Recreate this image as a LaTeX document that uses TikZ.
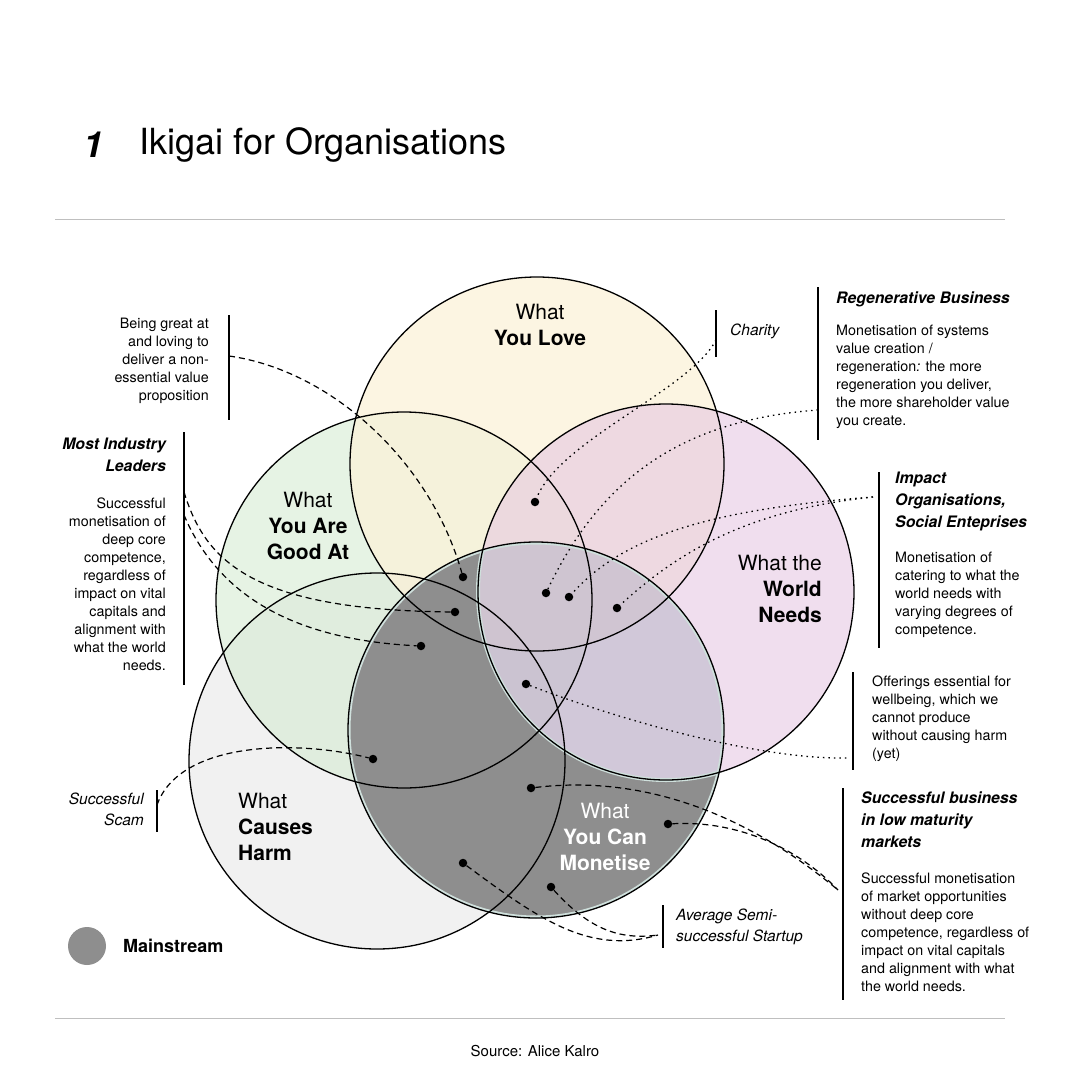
\documentclass[tikz,border=0pt]{standalone}
\usepackage{fontspec}
\setmainfont{TeX Gyre Heros}
\usepackage{xcolor}
\usetikzlibrary{positioning}

\definecolor{lovecol}{HTML}{FBF1D8}
\definecolor{goodcol}{HTML}{D6EBD2}
\definecolor{worldcol}{HTML}{E6C8E2}
\definecolor{harmcol}{HTML}{F1F1F1}
\definecolor{mainstream}{HTML}{8E8E8E}
\definecolor{overlap}{HTML}{B4B2C4}
\definecolor{rim}{HTML}{CFE0DC}

\tikzset{
  ring/.style={draw=black, line width=1.3pt},
  dot/.style={circle, fill=black, inner sep=0pt, minimum size=8.5pt},
  bar/.style={line width=1.1pt},
  note/.style={font=\fontsize{14.3}{18}\selectfont, inner sep=0pt},
  hint/.style={note, font=\fontsize{15.5}{21}\selectfont\itshape},
  head/.style={note, font=\fontsize{15.8}{22}\selectfont\bfseries\itshape},
  cname/.style={font=\fontsize{21}{26}\selectfont, inner sep=0pt},
  dashlink/.style={line width=1.2pt, dash pattern=on 6pt off 4pt},
  dotlink/.style={line width=1.3pt, dash pattern=on 1.5pt off 4pt}
}

\begin{document}
\begin{tikzpicture}[x=1pt, y=-1pt]
\useasboundingbox (0,0) rectangle (1080,1081);

% Title and rules
\node[anchor=west, font=\fontsize{36}{40}\selectfont\bfseries\itshape] (num) at (80,145) {1};
\node[anchor=west, font=\fontsize{36}{40}\selectfont] (title) at (136,145) {Ikigai for Organisations};
\draw[gray!50] (55,219) -- (1005,219);
\draw[gray!50] (55,1018) -- (1005,1018);
\node[note, font=\fontsize{15}{18}\selectfont] (source) at (535,1051) {Source: Alice Kalro};

% Circles
\def\harm{(377,761) circle (188)}
\def\good{(404,600) circle (188)}
\def\love{(537,464) circle (187)}
\def\world{(666,592) circle (188)}
\def\money{(536,730) circle (188)}

\fill[harmcol] \harm;
\fill[goodcol, fill opacity=0.6] \good;
\fill[lovecol, fill opacity=0.75] \love;
\fill[worldcol, fill opacity=0.6] \world;
\begin{scope}
  \clip \money;
  \fill[mainstream, even odd rule] \money \world;
  \fill[overlap, fill opacity=0.5] \world;
  \draw[rim, line width=5pt] \money;
  \draw[rim, line width=4pt] \world;
\end{scope}
\draw[ring] \harm;
\draw[ring] \good;
\draw[ring] \love;
\draw[ring] \world;
\draw[ring] \money;

% Circle labels
\node[cname, align=center] (lLove) at (540,325) {What\\\textbf{You Love}};
\node[cname, align=center] (lGood) at (308,526) {What\\\textbf{You Are}\\\textbf{Good At}};
\node[cname, align=right, anchor=east] (lWorld) at (822,589) {What the\\\textbf{World}\\\textbf{Needs}};
\node[cname, align=left, anchor=west] (lHarm) at (238,827) {What\\\textbf{Causes}\\\textbf{Harm}};
\node[cname, align=center, text=white] (lMoney) at (605,837) {What\\\textbf{You Can}\\\textbf{Monetise}};

% Dots
\node[dot] (dCharity) at (535,502) {};
\node[dot] (dRegen) at (546,593) {};
\node[dot] (dImpactA) at (569,597) {};
\node[dot] (dImpactB) at (617,608) {};
\node[dot] (dGreat) at (463,577) {};
\node[dot] (dLeadA) at (455,612) {};
\node[dot] (dLeadB) at (421,646) {};
\node[dot] (dOffer) at (526,684) {};
\node[dot] (dScam) at (373,759) {};
\node[dot] (dLowA) at (531,788) {};
\node[dot] (dLowB) at (668,824) {};
\node[dot] (dAvgA) at (463,863) {};
\node[dot] (dAvgB) at (551,887) {};

% Left notes
\node[note, align=right, anchor=north east] (tGreat) at (209,318) {Being great at\\and loving to\\deliver a non-\\essential value\\proposition};
\draw[bar] (229,315) -- (229,420);
\coordinate (cGreat) at (229,356);

\node[head, align=right, anchor=north east] (tLead) at (166,438) {Most Industry\\Leaders};
\node[note, align=right, anchor=north east] (tLeadB) at (166,498) {Successful\\monetisation of\\deep core\\competence,\\regardless of\\impact on vital\\capitals and\\alignment with\\what the world\\needs.};
\draw[bar] (184,432) -- (184,685);
\coordinate (cLeadA) at (184,492);
\coordinate (cLeadB) at (184,515);

\node[hint, align=right, anchor=east] (tScam) at (144,809) {Successful\\Scam};
\draw[bar] (157,790) -- (157,832);
\coordinate (cScam) at (157,805);

% Right notes
\node[hint, anchor=west] (tCharity) at (730,331) {Charity};
\draw[bar] (716,310) -- (716,357);
\coordinate (cCharity) at (716,340);

\node[head, anchor=west] (tRegen) at (836,299) {Regenerative Business};
\node[note, align=left, anchor=north west] (tRegenB) at (836,325) {Monetisation of systems\\value creation /\\regeneration\textit{:} the more\\regeneration you deliver,\\the more shareholder value\\you create.};
\draw[bar] (818,287) -- (818,440);
\coordinate (cRegen) at (818,410);

\node[head, align=left, anchor=north west] (tImpact) at (895,472) {Impact\\Organisations,\\Social Enteprises};
\node[note, align=left, anchor=north west] (tImpactB) at (895,552) {Monetisation of\\catering to what the\\world needs with\\varying degrees of\\competence.};
\draw[bar] (879,472) -- (879,648);
\coordinate (cImpact) at (873,497);

\node[note, align=left, anchor=north west] (tOffer) at (872,676) {Offerings essential for\\wellbeing, which we\\cannot produce\\without causing harm\\(yet)};
\draw[bar] (853,672) -- (853,770);
\coordinate (cOffer) at (848,758);

\node[head, align=left, anchor=north west] (tLow) at (861,792) {Successful business\\in low maturity\\markets};
\node[note, align=left, anchor=north west] (tLowB) at (861,873) {Successful monetisation\\of market opportunities\\without deep core\\competence, regardless of\\impact on vital capitals\\and alignment with what\\the world needs.};
\draw[bar] (843,788) -- (843,1000);
\coordinate (cLow) at (838,890);

\node[hint, align=left, anchor=west] (tAvg) at (676,927) {Average Semi-\\successful Startup};
\draw[bar] (663,905) -- (663,948);
\coordinate (cAvg) at (658,935);

% Connectors
\draw[dashlink] (cGreat) .. controls (330,370) and (430,460) .. (dGreat);
\draw[dashlink] (cLeadA) .. controls (205,560) and (250,610) .. (dLeadA);
\draw[dashlink] (cLeadB) .. controls (220,600) and (300,640) .. (dLeadB);
\draw[dashlink] (cScam) .. controls (180,740) and (300,740) .. (dScam);
\draw[dashlink] (dLowA) .. controls (680,770) and (790,850) .. (cLow);
\draw[dashlink] (dLowB) .. controls (740,820) and (800,850) .. (cLow);
\draw[dashlink] (dAvgA) .. controls (540,920) and (590,955) .. (cAvg);
\draw[dashlink] (dAvgB) .. controls (590,930) and (620,940) .. (cAvg);
\draw[dotlink] (cCharity) .. controls (690,390) and (560,440) .. (dCharity);
\draw[dotlink] (cRegen) .. controls (680,420) and (600,480) .. (dRegen);
\draw[dotlink] (cImpact) .. controls (700,510) and (620,540) .. (dImpactA);
\draw[dotlink] (cImpact) .. controls (750,510) and (680,550) .. (dImpactB);
\draw[dotlink] (dOffer) .. controls (620,720) and (760,760) .. (cOffer);

% Legend
\fill[mainstream] (87,946) circle (19);
\node[note, anchor=west, font=\fontsize{18}{20}\selectfont\bfseries] (lMain) at (123,946) {Mainstream};
\end{tikzpicture}
\end{document}
